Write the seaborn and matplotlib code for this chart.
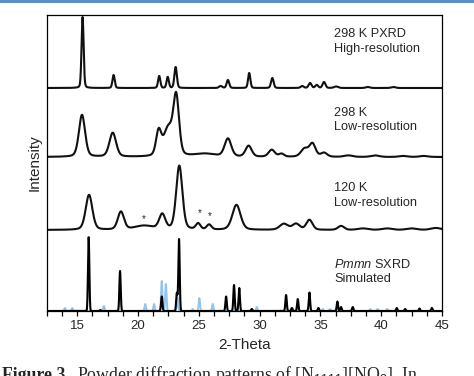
import numpy as np
import pandas as pd
import matplotlib.pyplot as plt
import seaborn as sns
from matplotlib.patches import Rectangle
from matplotlib.ticker import MultipleLocator

# peak tables: 2-theta position, height (a.u.), fwhm (deg)
# 298 K PXRD high-resolution
hr_pos = [15.45, 18.0, 21.75, 22.45, 23.1, 26.8, 27.4, 29.15, 31.05, 33.5, 34.15, 34.7, 35.3, 36.3, 38.9, 41.0]
hr_int = [71, 13, 12, 11, 21, 2, 8, 15, 10, 2, 5, 3, 6, 1.5, 1, 1]
hr_fwhm = [0.2, 0.22, 0.22, 0.22, 0.24, 0.3, 0.25, 0.22, 0.25, 0.3, 0.28, 0.28, 0.28, 0.4, 0.4, 0.4]

# 298 K low-resolution
lr_pos = [15.4, 17.93, 21.7, 22.5, 23.15, 25.5, 27.4, 29.1, 31.0, 31.8, 33.7, 34.35, 35.3, 37.3, 39.5, 41.8, 43.5]
lr_int = [42, 24, 24, 28, 57, 3, 18, 11, 7, 3, 8, 13, 4, 1.5, 1.5, 1, 1]
lr_fwhm = [0.6, 0.65, 0.5, 0.9, 0.55, 2.0, 0.65, 0.6, 0.6, 0.5, 0.7, 0.6, 0.6, 0.8, 0.8, 0.8, 0.8]

# 120 K low-resolution
lt_pos = [15.98, 18.6, 20.5, 22.0, 23.4, 24.95, 25.85, 28.1, 32.0, 33.0, 34.1, 36.7, 38.5, 40.5, 42.5, 44.5]
lt_int = [35, 18, 4, 15, 64, 6, 5, 25, 6, 6, 10, 4, 1.5, 1.5, 1.5, 2]
lt_fwhm = [0.65, 0.6, 1.8, 0.6, 0.6, 0.45, 0.45, 0.8, 0.8, 0.7, 0.6, 0.6, 1.0, 1.0, 1.0, 1.0]

# Pmmn SXRD simulated (black) and second simulated pattern (light blue)
sim_pos = [15.95, 16.9, 18.53, 21.96, 23.2, 23.38, 27.25, 27.9, 28.33, 29.36, 32.18, 32.65, 33.14, 34.1,
           34.84, 36.4, 36.7, 37.66, 41.28, 41.97, 43.15, 44.17]
sim_int = [74, 1, 40, 14.5, 18, 72, 14.5, 26, 23, 2, 16, 3, 12, 18.5, 3, 9.5, 4, 4, 3, 2, 2.5, 3]
alt_pos = [14.0, 14.6, 17.2, 20.6, 21.33, 21.96, 22.3, 23.25, 24.5, 25.05, 26.15, 29.77, 32.7, 33.1,
           35.2, 35.8, 39.1, 39.7, 40.5]
alt_int = [3, 3, 5, 7, 7, 30, 27, 14, 2, 13, 7, 4, 3, 3, 2, 2, 2, 2, 2]
sim_fwhm = 0.13

labels = ['298 K PXRD\nHigh-resolution', '298 K\nLow-resolution', '120 K\nLow-resolution',
          '$\\mathit{Pmmn}$ SXRD\nSimulated']
star_pos = [20.5, 25.05, 25.9]


def pattern(x, pos, hgt, fwhm, eta=0.0):
    fwhm = np.broadcast_to(np.asarray(fwhm, dtype=float), (len(pos),))
    y = np.zeros_like(x)
    for p, h, w in zip(pos, hgt, fwhm):
        u = (x - p) / w
        y += h * ((1 - eta) * np.exp(-4 * np.log(2) * u ** 2) + eta / (1 + 4 * u ** 2))
    return y


tt = np.linspace(12.5, 45, 4000)
offsets = [223, 154, 81, 0]

df = pd.DataFrame({
    'tt': tt,
    'hr': pattern(tt, hr_pos, hr_int, hr_fwhm, 0.2) + offsets[0],
    'lr': pattern(tt, lr_pos, lr_int, lr_fwhm, 0.3) + offsets[1],
    'lt': pattern(tt, lt_pos, lt_int, lt_fwhm, 0.3) + offsets[2],
    'sim': pattern(tt, sim_pos, sim_int, sim_fwhm) + offsets[3],
    'alt': pattern(tt, alt_pos, alt_int, sim_fwhm) + offsets[3],
})

sns.set_style('ticks')
plt.rcParams['font.family'] = ['Liberation Sans', 'DejaVu Sans']
plt.rcParams['mathtext.fontset'] = 'custom'
plt.rcParams['mathtext.rm'] = 'Liberation Sans'
plt.rcParams['mathtext.it'] = 'Liberation Sans:italic'

fig = plt.figure(figsize=(4.74, 3.76), dpi=100)
ax = fig.add_axes([46.7 / 474, 1 - 311 / 376, (442 - 46.7) / 474, (311 - 15) / 376])

sns.lineplot(data=df, x='tt', y='alt', color='#93c4ea', lw=1.4, ax=ax, estimator=None)
sns.lineplot(data=df, x='tt', y='sim', color='black', lw=1.5, ax=ax, estimator=None)
for col in ['lt', 'lr', 'hr']:
    sns.lineplot(data=df, x='tt', y=col, color='#111111', lw=1.5, ax=ax, estimator=None)

ax.set_xlim(12.5, 45)
ax.set_ylim(0, 296)
ax.set_yticks([])
ax.xaxis.set_major_locator(MultipleLocator(5))
ax.xaxis.set_minor_locator(MultipleLocator(1.25))
ax.tick_params(axis='x', which='both', direction='out', length=3.5, width=0.9, color='black',
               labelsize=9.5, pad=3)
for s in ax.spines.values():
    s.set_linewidth(0.9)
    s.set_color('black')

ax.set_xlabel('2-Theta', fontsize=11, labelpad=4)
ax.set_ylabel('Intensity', fontsize=11, labelpad=4)

label_y = [269.5, 191, 115.5, 39.5]
for txt, yy in zip(labels, label_y):
    ax.text(36.13, yy, txt, fontsize=9.2, va='center', ha='left', linespacing=1.25)

star_y = [92, 98, 95]
for sx, sy in zip(star_pos, star_y):
    ax.text(sx, sy, '*', fontsize=7, ha='center', va='center')

# page bits around the figure
fig.add_artist(Rectangle((0, 1 - 2.5 / 376), 1, 2.5 / 376, transform=fig.transFigure,
                         color='#5b8dc9', lw=0))
fig.text(2 / 474, 1 - 380 / 376, 'Figure 3.', family='Liberation Serif', fontsize=12.8,
         fontweight='bold', va='baseline')
fig.text(77 / 474, 1 - 380 / 376, 'Powder diffraction patterns of [N$_{1111}$][NO$_3$]. In',
         family='Liberation Serif', fontsize=12.8, va='baseline')

fig.savefig('out.png', dpi=100)
